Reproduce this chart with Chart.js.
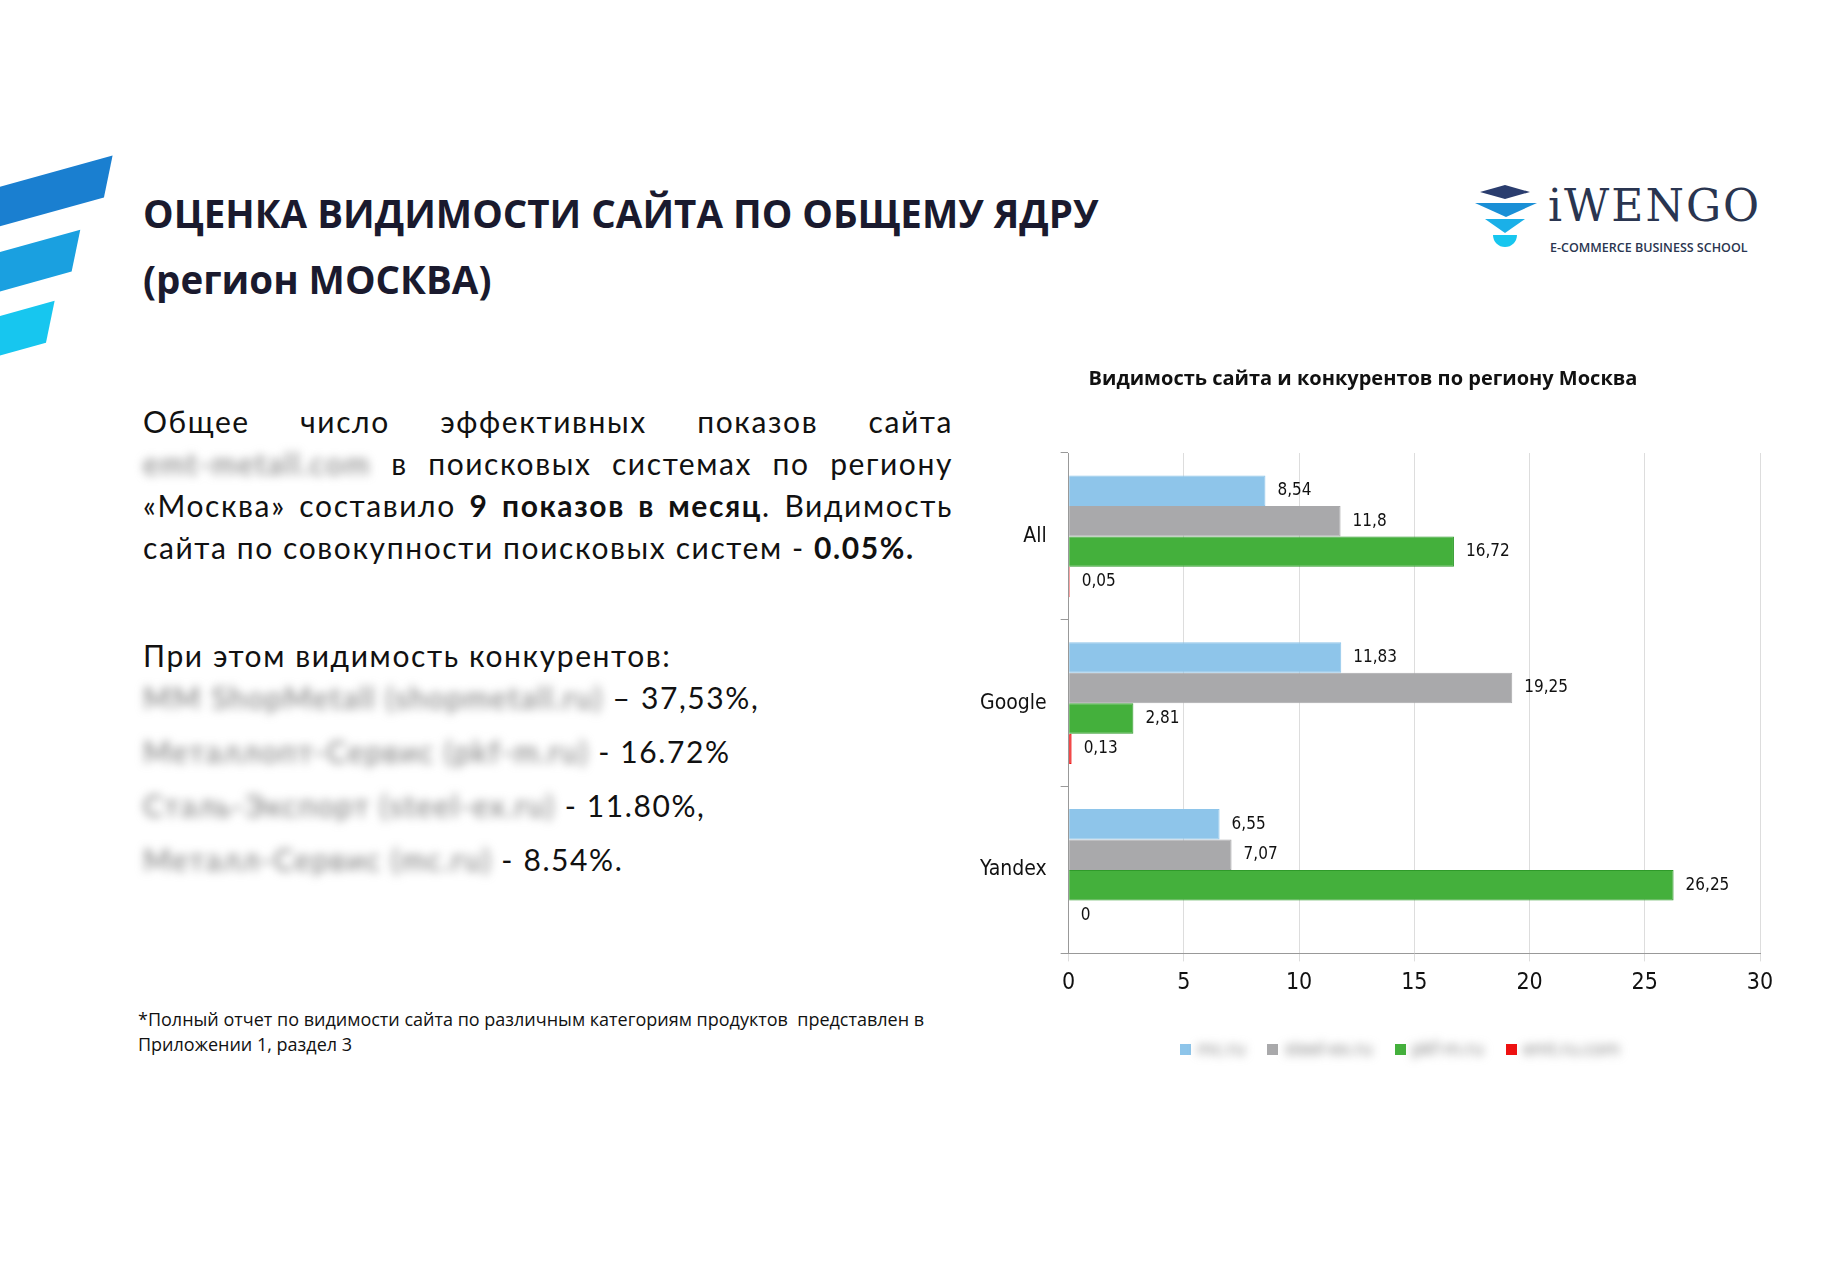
<!DOCTYPE html>
<html><head><meta charset="utf-8">
<script src="https://cdn.jsdelivr.net/npm/chart.js@4.4.0/dist/chart.umd.min.js"></script>
<style>
body{margin:0;width:1840px;height:1280px;background:#fff;position:relative;overflow:hidden;font-family:"Open Sans",sans-serif;color:#111}
.stripe{position:absolute;height:44px;transform:skewX(-28deg) rotate(-18deg);transform-origin:left}
h1{position:absolute;left:143px;top:180px;margin:0;font-size:38.5px;line-height:66px;font-weight:700;color:#1a1a2e}
.txt{position:absolute;left:143px;width:810px;font-size:30px;line-height:42px;font-family:"Lato",sans-serif;letter-spacing:1.6px}
.ln{display:block;text-align:justify;text-align-last:justify}
.blur{filter:blur(5px);color:#777}
#legend{position:absolute;left:1180px;top:1036px;font-size:18px;display:flex;gap:22px}
#legend span.b{display:inline-block;width:11px;height:11px;margin-right:6px}
.note{position:absolute;left:138px;top:1007px;font-size:18px;line-height:25px}
</style></head><body>
<div class="stripe" style="left:-20px;top:190px;width:115px;background:#1a7fd0"></div>
<div class="stripe" style="left:-30px;top:258px;width:95px;background:#1aa0e0"></div>
<div class="stripe" style="left:-30px;top:322px;width:72px;background:#17c6ef"></div>
<h1>ОЦЕНКА ВИДИМОСТИ САЙТА ПО ОБЩЕМУ ЯДРУ<br>(регион МОСКВА)</h1>
<div style="position:absolute;left:1475px;top:185px;width:60px;height:60px">
<div style="width:50px;height:14px;background:#2a3d6e;margin:0 auto 4px;clip-path:polygon(0 50%,50% 0,100% 50%,50% 100%)"></div>
<div style="width:62px;height:14px;background:#1a8fd6;clip-path:polygon(0 0,100% 0,50% 100%)"></div>
<div style="width:40px;height:14px;background:#1ab0e8;margin:2px auto;clip-path:polygon(0 0,100% 0,50% 100%)"></div>
<div style="width:24px;height:12px;background:#17c6ef;margin:0 auto;border-radius:0 0 12px 12px"></div></div>
<div style="position:absolute;left:1548px;top:180px;font-family:'DejaVu Serif',serif;font-size:44px;color:#2a3550;letter-spacing:2px">iWENGO</div>
<div style="position:absolute;left:1550px;top:239px;font-size:12.5px;font-weight:600;color:#2a3550">E-COMMERCE BUSINESS SCHOOL</div>

<div class="txt" style="top:400px">
<span class="ln">Общее число эффективных показов сайта</span>
<span class="ln"><span class="blur">emt-metall.com</span> в поисковых системах по региону</span>
<span class="ln">«Москва» составило <b>9 показов в месяц</b>. Видимость</span>
<span style="display:block">сайта по совокупности поисковых систем - <b>0.05%.</b></span></div>
<div class="txt" style="top:634px">При этом видимость конкурентов:<br>
<span class="blur">ММ ShopMetall (shopmetall.ru)</span> – 37,53%,<br>
<div style="margin-top:12px"><span class="blur">Металлопт-Сервис (pkf-m.ru)</span> - 16.72%</div>
<div style="margin-top:12px"><span class="blur">Сталь-Экспорт (steel-ex.ru)</span> - 11.80%,</div>
<div style="margin-top:12px"><span class="blur">Металл-Сервис (mc.ru)</span> - 8.54%.</div></div>
<div class="note">*Полный отчет по видимости сайта по различным категориям продуктов&nbsp; представлен в<br>Приложении 1, раздел 3</div>

<div style="position:absolute;left:966px;top:367px;width:834px;height:638px"><canvas id="c"></canvas></div>
<div id="legend"></div>
<script>
const categories = ["All", "Google", "Yandex"];
const seriesNames = ["mc.ru", "steel-ex.ru", "pkf-m.ru", "emt.ru.com"];
const seriesColors = ["#8ec5ea", "#a9a9ab", "#44b03c", "#ee1111"];
const mcValues = [8.54, 11.83, 6.55];
const steelValues = [11.8, 19.25, 7.07];
const pkfValues = [16.72, 2.81, 26.25];
const emtValues = [0.05, 0.13, 0];
const xTicks = [0, 5, 10, 15, 20, 25, 30];

const allValues = [mcValues, steelValues, pkfValues, emtValues];
const chartFont = "'DejaVu Sans Condensed', sans-serif";

// value labels to the right of each bar
const valueLabels = {
  id: "valueLabels",
  afterDatasetsDraw(chart) {
    const ctx = chart.ctx;
    ctx.save();
    ctx.font = "17px " + chartFont;
    ctx.fillStyle = "#111";
    ctx.textBaseline = "middle";
    chart.data.datasets.forEach((ds, i) => {
      chart.getDatasetMeta(i).data.forEach((bar, j) => {
        ctx.fillText(String(ds.data[j]).replace(".", ","), bar.x + 12, bar.y);
      });
    });
    ctx.restore();
  }
};

new Chart(document.getElementById("c"), {
  type: "bar",
  data: {
    labels: categories,
    datasets: allValues.map((vals, i) => ({
      label: seriesNames[i],
      data: vals,
      backgroundColor: seriesColors[i],
      borderColor: i == 2 ? "#2f9a2a" : seriesColors[i],
      borderWidth: 1,
      barPercentage: 1,
      categoryPercentage: 0.73
    }))
  },
  options: {
    indexAxis: "y",
    responsive: true,
    maintainAspectRatio: false,
    animation: false,
    layout: { padding: { right: 40 } },
    plugins: {
      legend: { display: false },
      title: {
        display: true,
        text: "Видимость сайта и конкурентов по региону Москва",
        font: { family: "'Open Sans', sans-serif", size: 20, weight: "bold" },
        color: "#111",
        padding: { top: 0, bottom: 62 }
      },
      tooltip: { enabled: false }
    },
    scales: {
      x: {
        min: 0, max: 30,
        afterBuildTicks: axis => { axis.ticks = xTicks.map(v => ({ value: v })); },
        ticks: { font: { family: chartFont, size: 23 }, color: "#111", padding: 8 },
        grid: { color: "#dddddd", tickLength: 8 },
        border: { color: "#999" }
      },
      y: {
        ticks: { font: { family: chartFont, size: 21 }, color: "#111", padding: 14 },
        grid: { display: true, offset: true, drawOnChartArea: false, tickLength: 8, color: "#999" },
        border: { color: "#999" }
      }
    }
  },
  plugins: [valueLabels]
});

const legend = document.getElementById("legend");
seriesNames.forEach((n, i) => {
  legend.innerHTML += `<div><span class="b" style="background:${seriesColors[i]}"></span><span class="blur">${n}</span></div>`;
});
</script>
</body></html>
